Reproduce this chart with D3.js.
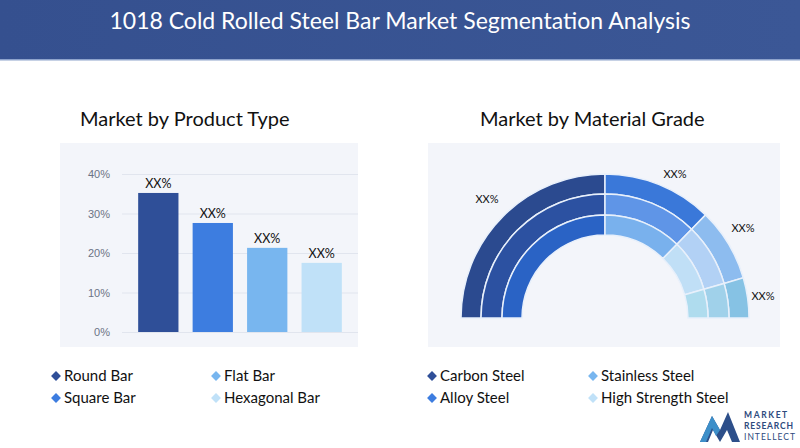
<!DOCTYPE html>
<html>
<head>
<meta charset="utf-8">
<script src="https://cdn.jsdelivr.net/npm/d3@7"></script>
<style>
  body { margin: 0; background: #fff; }
  svg { display: block; font-family: Lato, 'Open Sans', sans-serif; }
  .tick text { fill: #6b7385; font-size: 11px; }
</style>
</head>
<body>
<svg width="800" height="448"></svg>
<script>
// data
const productTypes = ['Round Bar', 'Square Bar', 'Flat Bar', 'Hexagonal Bar'];
const productShares = [35.2, 27.6, 21.3, 17.5];
const productColors = ['#2f4f98', '#3d7de0', '#78b6ef', '#c0e1f8'];
const yTicks = [0, 10, 20, 30, 40];

const grades = ['Carbon Steel', 'Alloy Steel', 'Stainless Steel', 'High Strength Steel'];
const gradeShares = [50, 24.6, 16.4, 9];
// per ring (outer, middle, inner) shades for each grade
const ringColors = [
  ['#2b4a8f', '#3a78d9', '#8dbcef', '#86c2e4'],
  ['#2c51a1', '#5f95e7', '#b2d1f5', '#a0d1ea'],
  ['#2a63c5', '#79b1ed', '#c0dff6', '#afdcee']
];
const legendColors = ['#2f4f98', '#3d7de0', '#78b6ef', '#c0e1f8'];

const svg = d3.select('svg');
const width = +svg.attr('width');

// background + header
const defs = svg.append('defs');
const hg = defs.append('linearGradient').attr('id', 'hdr');
hg.append('stop').attr('offset', '0%').attr('stop-color', '#35508f');
hg.append('stop').attr('offset', '100%').attr('stop-color', '#3b5796');

svg.append('rect').attr('width', width).attr('height', 59).attr('fill', 'url(#hdr)');
svg.append('rect').attr('y', 59).attr('width', width).attr('height', 1.5).attr('fill', '#8ea3cc');
svg.append('text')
  .attr('x', width / 2).attr('y', 23)
  .attr('text-anchor', 'middle').attr('dominant-baseline', 'middle')
  .attr('fill', '#fff').attr('font-size', 23)
  .text('1018 Cold Rolled Steel Bar Market Segmentation Analysis');

svg.append('text').attr('x', 80).attr('y', 126).attr('font-size', 20).attr('fill', '#111')
  .text('Market by Product Type');
svg.append('text').attr('x', 480).attr('y', 126).attr('font-size', 20).attr('fill', '#111')
  .text('Market by Material Grade');

// panels
svg.append('rect').attr('x', 60).attr('y', 143).attr('width', 298).attr('height', 204).attr('fill', '#f3f5fa');
svg.append('rect').attr('x', 428).attr('y', 143).attr('width', 352).attr('height', 204).attr('fill', '#f3f5fa');

// bar chart
const yScale = d3.scaleLinear().domain([0, 40]).range([332, 174]);
const xScale = d3.scaleBand().domain(productTypes).range([130, 350]).paddingInner(0.26).paddingOuter(0.15);

const yAxis = d3.axisLeft(yScale)
  .tickValues(yTicks)
  .tickFormat(d => d + '%')
  .tickSize(-236)
  .tickPadding(12);

const yAxisG = svg.append('g').attr('transform', 'translate(122,0)').call(yAxis);
yAxisG.select('.domain').remove();
yAxisG.selectAll('.tick line').attr('stroke', '#e1e5ee');

svg.append('g').selectAll('rect').data(productTypes)
  .enter().append('rect')
    .attr('x', d => xScale(d))
    .attr('y', (d, i) => yScale(productShares[i]))
    .attr('width', xScale.bandwidth())
    .attr('height', (d, i) => yScale(0) - yScale(productShares[i]))
    .attr('fill', (d, i) => productColors[i]);

svg.append('g').selectAll('text').data(productTypes)
  .enter().append('text')
    .attr('x', d => xScale(d) + xScale.bandwidth() / 2)
    .attr('y', (d, i) => yScale(productShares[i]) - 5)
    .attr('text-anchor', 'middle')
    .attr('font-size', 12.5)
    .attr('fill', '#111')
    .text('XX%');

// half donut
const cx = 605, cy = 318;
const rings = [[124, 144], [103, 124], [83, 103]];
const pie = d3.pie().sort(null).value(d => d)
  .startAngle(-Math.PI / 2).endAngle(Math.PI / 2);
const arcsData = pie(gradeShares);

const donutG = svg.append('g').attr('transform', `translate(${cx},${cy})`);
rings.forEach((r, ri) => {
  const arc = d3.arc().innerRadius(r[0]).outerRadius(r[1]);
  donutG.append('g').selectAll('path').data(arcsData)
    .enter().append('path')
      .attr('d', arc)
      .attr('fill', (d, i) => ringColors[ri][i])
      .attr('stroke', '#e8f0fb')
      .attr('stroke-width', 1.5);
});

// labels
const labelPos = [[-118, -115], [70, -140], [138, -86], [158, -18]];
donutG.selectAll('text.lbl').data(labelPos)
  .enter().append('text')
    .attr('class', 'lbl')
    .attr('x', d => d[0]).attr('y', d => d[1])
    .attr('text-anchor', 'middle')
    .attr('font-size', 11)
    .attr('fill', '#111')
    .text('XX%');

// legends
const productLegend = [
  { name: productTypes[0], x: 56, y: 376, c: productColors[0] },
  { name: productTypes[1], x: 56, y: 398, c: productColors[1] },
  { name: productTypes[2], x: 216, y: 376, c: productColors[2] },
  { name: productTypes[3], x: 216, y: 398, c: productColors[3] }
];
const gradeLegend = [
  { name: grades[0], x: 432, y: 376, c: legendColors[0] },
  { name: grades[1], x: 432, y: 398, c: legendColors[1] },
  { name: grades[2], x: 593, y: 376, c: legendColors[2] },
  { name: grades[3], x: 593, y: 398, c: legendColors[3] }
];
const legG = svg.append('g');
const items = legG.selectAll('g').data(productLegend.concat(gradeLegend))
  .enter().append('g')
    .attr('transform', d => `translate(${d.x},${d.y})`);
items.append('rect')
  .attr('x', -3.5).attr('y', -3.5).attr('width', 7).attr('height', 7)
  .attr('transform', 'rotate(45)')
  .attr('fill', d => d.c);
items.append('text')
  .attr('x', 8).attr('dy', '0.35em')
  .attr('font-size', 15).attr('fill', '#111')
  .text(d => d.name);

// logo
const logo = svg.append('g').attr('transform', 'translate(700,408)');
logo.append('path').attr('d', 'M0,34 L12,8 L20,22 L28,4 L40,34 L32,34 L27,22 L20,34 L13,22 L8,34 Z').attr('fill', '#2d4f8a');
logo.append('path').attr('d', 'M0,34 L12,8 L20,22 L16,28 L12,20 L6,34 Z').attr('fill', '#3d8fc9');
const logoText = logo.append('g').attr('font-size', 8.5).attr('fill', '#2d4a7d');
logoText.append('text').attr('x', 44).attr('y', 10).attr('font-weight', 'bold').attr('letter-spacing', 1.6).text('MARKET');
logoText.append('text').attr('x', 44).attr('y', 21).attr('font-weight', 'bold').attr('letter-spacing', 0.8).text('RESEARCH');
logoText.append('text').attr('x', 44).attr('y', 32).attr('letter-spacing', 1).text('INTELLECT');
</script>
</body>
</html>
